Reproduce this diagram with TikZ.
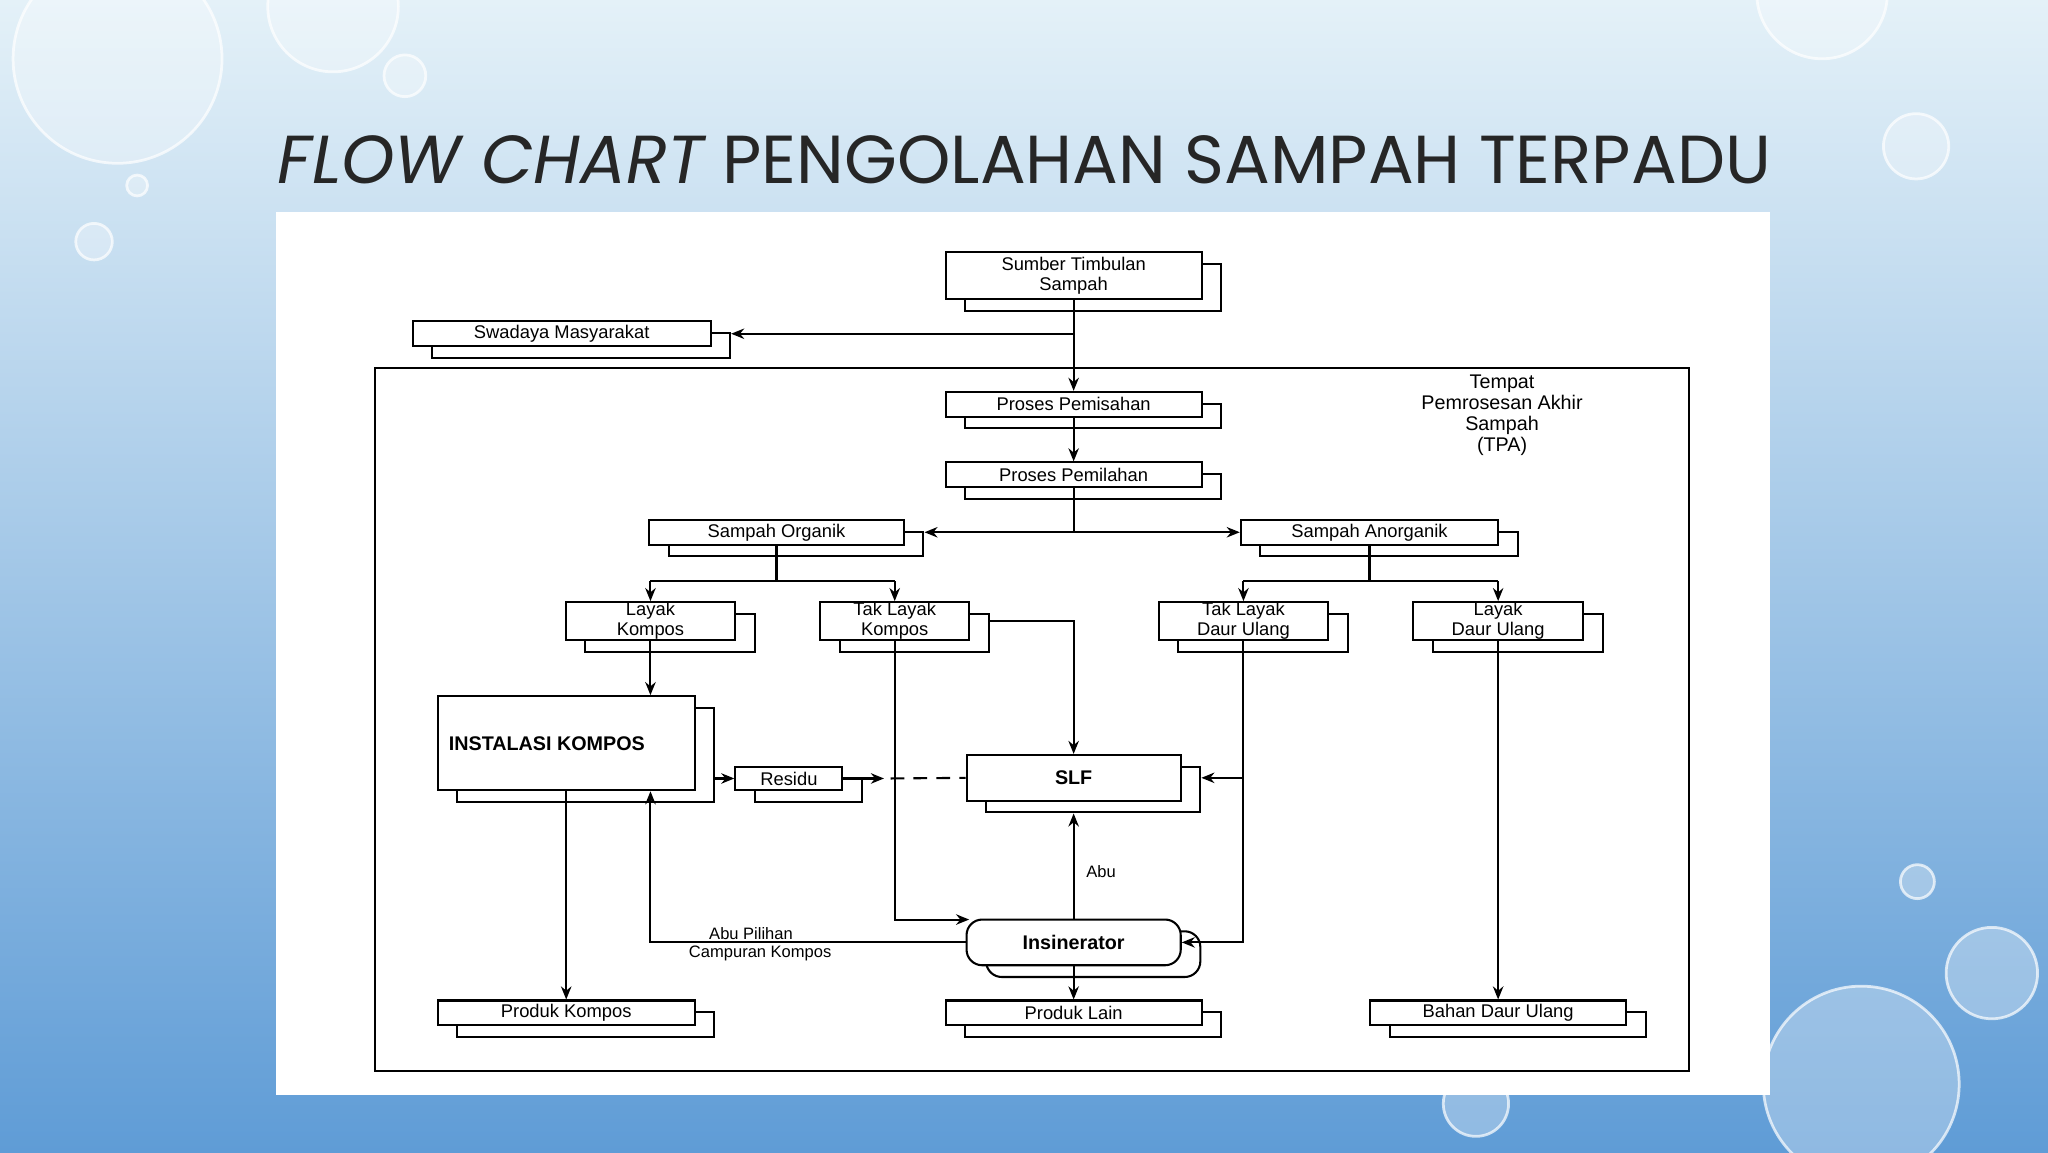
\documentclass[tikz,border=0pt]{standalone}
\usepackage{fontspec}
\setmainfont{Liberation Sans}
\newfontfamily\titlefont{Poppins}
\usetikzlibrary{shadows,arrows.meta}
\begin{document}
\begin{tikzpicture}[
  bx/.style={draw,fill=white,line width=.45pt,inner sep=0pt,font=\fontsize{4}{4.3}\selectfont,align=center,
    general shadow={shadow xshift=.15cm,shadow yshift=-.09cm,draw,fill=white,line width=.45pt}},
  arr/.style={line width=.45pt,-{Stealth[length=1mm,width=.8mm]}},
  ln/.style={line width=.45pt},
  lbl/.style={font=\fontsize{3.6}{4}\selectfont,inner sep=0pt},
  drop/.style={fill=white,fill opacity=.3,draw=white,draw opacity=.7,line width=.6pt}
]
\useasboundingbox (0,0) rectangle (15.68,-8.82);
\shade[top color={rgb,255:red,228;green,241;blue,248},bottom color={rgb,255:red,95;green,156;blue,214}] (0,0) rectangle (15.68,-8.82);
% drops
\draw[drop] (0.9,-0.45) circle (.8);
\draw[drop] (2.55,-0.05) circle (.5);
\draw[drop] (3.1,-0.58) circle (.16);
\draw[drop] (1.05,-1.42) circle (.08);
\draw[drop] (0.72,-1.85) circle (.14);
\draw[drop] (13.95,0.05) circle (.5);
\draw[drop] (14.67,-1.12) circle (.25);
\draw[drop] (14.68,-6.75) circle (.13);
\draw[drop] (15.25,-7.45) circle (.35);
\draw[drop] (14.25,-8.3) circle (.75);
\draw[drop] (11.3,-8.45) circle (.25);
% title
\node[anchor=west,inner sep=0pt] (title) at (2.12,-1.22) {\resizebox{11.43cm}{!}{\titlefont\color{black!85}\itshape FLOW CHART\upshape{} PENGOLAHAN SAMPAH TERPADU}};
% white panel
\fill[white] (2.11,-1.62) rectangle (13.55,-8.38);
\draw[ln] (2.87,-2.82) rectangle (12.93,-8.20);
\node[lbl,align=center,font=\fontsize{4.3}{4.6}\selectfont] (tpa) at (11.50,-3.18) {Tempat\\Pemrosesan Akhir\\Sampah\\(TPA)};
% boxes
\node[bx,minimum width=1.96cm,minimum height=.36cm] (sumber) at (8.22,-2.11) {Sumber Timbulan\\Sampah};
\node[bx,minimum width=2.28cm,minimum height=.19cm] (swadaya) at (4.30,-2.555) {Swadaya Masyarakat};
\node[bx,minimum width=1.96cm,minimum height=.19cm] (pemisahan) at (8.22,-3.095) {Proses Pemisahan};
\node[bx,minimum width=1.96cm,minimum height=.19cm] (pemilahan) at (8.22,-3.635) {Proses Pemilahan};
\node[bx,minimum width=1.95cm,minimum height=.19cm] (organik) at (5.945,-4.075) {Sampah Organik};
\node[bx,minimum width=1.97cm,minimum height=.19cm] (anorganik) at (10.485,-4.075) {Sampah Anorganik};
\node[bx,minimum width=1.30cm,minimum height=.29cm] (layakk) at (4.98,-4.755) {Layak\\Kompos};
\node[bx,minimum width=1.14cm,minimum height=.29cm] (taklk) at (6.85,-4.755) {Tak Layak\\Kompos};
\node[bx,minimum width=1.30cm,minimum height=.29cm] (takldu) at (9.52,-4.755) {Tak Layak\\Daur Ulang};
\node[bx,minimum width=1.30cm,minimum height=.29cm] (layakdu) at (11.47,-4.755) {Layak\\Daur Ulang};
\node[bx,minimum width=1.97cm,minimum height=.72cm] (instalasi) at (4.335,-5.69) {};
\node[lbl,anchor=west,font=\fontsize{4.3}{4.5}\bfseries] (instxt) at (3.43,-5.69) {INSTALASI KOMPOS};
\node[bx,minimum width=.82cm,minimum height=.18cm] (residu) at (6.04,-5.96) {Residu};
\node[bx,minimum width=1.64cm,minimum height=.35cm,font=\fontsize{4.3}{4.5}\bfseries] (slf) at (8.22,-5.955) {SLF};
\node[bx,rounded corners=.12cm,minimum width=1.64cm,minimum height=.35cm,font=\fontsize{4.3}{4.5}\bfseries] (insin) at (8.22,-7.215) {Insinerator};
\node[bx,minimum width=1.97cm,minimum height=.19cm] (produkk) at (4.335,-7.755) {Produk Kompos};
\node[bx,minimum width=1.96cm,minimum height=.19cm] (produkl) at (8.22,-7.755) {Produk Lain};
\node[bx,minimum width=1.96cm,minimum height=.19cm] (bahan) at (11.47,-7.755) {Bahan Daur Ulang};
% connectors
\draw[arr] (sumber.south) -- (pemisahan.north);
\draw[arr] (sumber.south |- swadaya.east) -- ([xshift=.15cm]swadaya.east);
\draw[arr] (pemisahan.south) -- (pemilahan.north);
\draw[ln] (pemilahan.south) -- (pemilahan.south |- organik.east);
\draw[arr] (pemilahan.south |- organik.east) -- ([xshift=.15cm]organik.east);
\draw[arr] (pemilahan.south |- anorganik.west) -- (anorganik.west);
\coordinate (y1) at (0,-4.45);
\draw[ln] (organik.south) -- (organik.south |- y1);
\draw[ln] (layakk.north |- y1) -- (taklk.north |- y1);
\draw[arr] (layakk.north |- y1) -- (layakk.north);
\draw[arr] (taklk.north |- y1) -- (taklk.north);
\draw[ln] (anorganik.south) -- (anorganik.south |- y1);
\draw[ln] (takldu.north |- y1) -- (layakdu.north |- y1);
\draw[arr] (takldu.north |- y1) -- (takldu.north);
\draw[arr] (layakdu.north |- y1) -- (layakdu.north);
\draw[arr] (layakk.south) -- (layakk.south |- instalasi.north);
\draw[arr] ([xshift=.15cm]taklk.east) -- (slf.north |- taklk.east) -- (slf.north);
\coordinate (y2) at (0,-7.04);
\draw[arr] (taklk.south) -- (taklk.south |- y2) -- (7.42,-7.04);
\draw[arr] (takldu.south) -- (takldu.south |- insin.east) -- (insin.east);
\draw[arr] (takldu.south |- slf.east) -- ([xshift=.15cm]slf.east);
\draw[arr] (layakdu.south) -- (bahan.north);
\draw[arr] ([xshift=.15cm]instalasi.east |- residu.west) -- (residu.west);
\draw[arr] ([xshift=.15cm]residu.east) -- ++(.16,0) coordinate (r1);
\draw[ln,densely dashed] ([xshift=.05cm]r1) -- (slf.west);
\draw[arr] (instalasi.south) -- (produkk.north);
\draw[arr] (insin.west) -- (layakk.south |- insin.west) -- (layakk.south |- instalasi.south);
\node[lbl] (l1) at (5.75,-7.15) {Abu Pilihan};
\node[lbl] (l2) at (5.82,-7.30) {Campuran Kompos};
\draw[arr] (insin.north) -- ([yshift=-.09cm]slf.south);
\node[lbl] (abu) at (8.43,-6.67) {Abu};
\draw[arr] (insin.south) -- (produkl.north);
\end{tikzpicture}
\end{document}
